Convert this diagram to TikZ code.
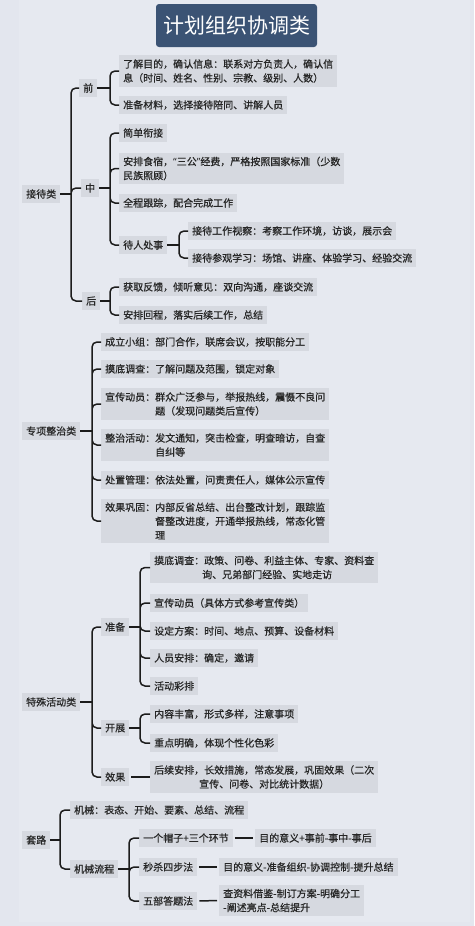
\documentclass[tikz,border=0pt]{standalone}
\usepackage{fontspec}
\usepackage{xcolor}
\usepackage{tikz}
\usetikzlibrary{positioning, calc}
\newfontfamily\cjk[FakeBold=0.6]{Noto Sans CJK SC}
\newfontfamily\cjktitle{Noto Sans CJK SC}
\newfontfamily\qfont{Noto Sans}

\definecolor{bgouter}{HTML}{E3E6EE}
\definecolor{bgpanel}{HTML}{E6E9F0}
\definecolor{boxgray}{HTML}{D6D9E0}
\definecolor{inkgray}{HTML}{262626}
\definecolor{linkgray}{HTML}{1C1C1C}
\definecolor{titleblue}{HTML}{3B5374}

\begin{document}
\begin{tikzpicture}[x=1pt, y=-1pt,
  leaf/.style={fill=boxgray, text=inkgray, font=\cjk\fontsize{10}{14}\selectfont,
    inner xsep=4pt, inner ysep=4pt, anchor=west, align=left},
  link/.style={draw=linkgray, line width=1.5pt, rounded corners=5pt},
  titlebox/.style={fill=titleblue, text=white, rounded corners=3pt,
    font=\cjktitle\fontsize{21}{21}\selectfont, minimum width=161pt, minimum height=43pt}]

  % Background
  \useasboundingbox (0,0) rectangle (474,926);
  \fill[bgouter] (0,0) rectangle (474,926);
  \fill[bgpanel] (19,0) rectangle (470,922);

  % Title
  \node[titlebox] (ttl) at (236.5,25.5) {计划组织协调类};

  % 接待类
  \node[leaf] (jd) at (22,194) {接待类};
  \node[leaf] (jq) at (79,88) {前};
  \node[leaf] (jq1) at (119,71) {了解目的，确认信息：联系对方负责人，确认信\\息（时间、姓名、性别、宗教、级别、人数）};
  \node[leaf] (jq2) at (119,105) {准备材料，选择接待陪同、讲解人员};
  \node[leaf] (jz) at (81,188) {中};
  \node[leaf] (jz1) at (119,133) {简单衔接};
  \node[leaf] (jz2) at (119,168.5) {安排食宿，{\qfont “}三公{\qfont ”}经费，严格按照国家标准（少数\\民族照顾）};
  \node[leaf] (jz3) at (119,203) {全程跟踪，配合完成工作};
  \node[leaf] (jz4) at (119,245) {待人处事};
  \node[leaf] (jz41) at (188,231) {接待工作视察：考察工作环境，访谈，展示会};
  \node[leaf] (jz42) at (188,258) {接待参观学习：场馆、讲座、体验学习、经验交流};
  \node[leaf] (jh) at (82,301) {后};
  \node[leaf] (jh1) at (119,287) {获取反馈，倾听意见：双向沟通，座谈交流};
  \node[leaf] (jh2) at (119,315) {安排回程，落实后续工作，总结};

  \coordinate (jd-j) at (71,194);
  \coordinate (jq-j) at (110,88);
  \coordinate (jz-j) at (110,188);
  \coordinate (jz4-j) at (179,245);
  \coordinate (jh-j) at (110,301);

  \draw[link] (jd.east) -- (jd-j);
  \draw[link] (jd-j) |- (jq.west) (jd-j) |- (jz.west) (jd-j) |- (jh.west);
  \draw[link] (jq.east) -- (jq-j);
  \draw[link] (jq-j) |- (jq1.west) (jq-j) |- (jq2.west);
  \draw[link] (jz.east) -- (jz-j);
  \draw[link] (jz-j) |- (jz1.west) (jz-j) |- (jz2.west) (jz-j) |- (jz3.west) (jz-j) |- (jz4.west);
  \draw[link] (jz4.east) -- (jz4-j);
  \draw[link] (jz4-j) |- (jz41.west) (jz4-j) |- (jz42.west);
  \draw[link] (jh.east) -- (jh-j);
  \draw[link] (jh-j) |- (jh1.west) (jh-j) |- (jh2.west);

  % 专项整治类
  \node[leaf] (zx) at (22,431) {专项整治类};
  \node[leaf] (zx1) at (101,342) {成立小组：部门合作，联席会议，按职能分工};
  \node[leaf] (zx2) at (101,369) {摸底调查：了解问题及范围，锁定对象};
  \node[leaf] (zx3) at (101,404) {宣传动员：群众广泛参与，举报热线，震慑不良问\\\hspace*{5em}题（发现问题类后宣传）};
  \node[leaf] (zx4) at (101,445) {整治活动：发文通知，突击检查，明查暗访，自查\\\hspace*{5em}自纠等};
  \node[leaf] (zx5) at (101,480) {处置管理：依法处置，问责责任人，媒体公示宣传};
  \node[leaf] (zx6) at (101,521) {效果巩固：内部反省总结、出台整改计划，跟踪监\\\hspace*{5em}督整改进度，开通举报热线，常态化管\\\hspace*{5em}理};

  \coordinate (zx-j) at (92,431);
  \draw[link] (zx.east) -- (zx-j);
  \draw[link] (zx-j) |- (zx1.west) (zx-j) |- (zx2.west) (zx-j) |- (zx3.west)
    (zx-j) |- (zx4.west) (zx-j) |- (zx5.west) (zx-j) |- (zx6.west);

  % 特殊活动类
  \node[leaf] (ts) at (22,702) {特殊活动类};
  \node[leaf] (tz) at (101,627) {准备};
  \node[leaf] (tz1) at (150,567.5) {摸底调查：政策、问卷、利益主体、专家、资料查\\\hspace*{4.8em}询、兄弟部门经验、实地走访};
  \node[leaf] (tz2) at (150,603) {宣传动员（具体方式参考宣传类）};
  \node[leaf] (tz3) at (150,631) {设定方案：时间、地点、预算、设备材料};
  \node[leaf] (tz4) at (150,658) {人员安排：确定，邀请};
  \node[leaf] (tz5) at (150,686) {活动彩排};
  \node[leaf] (tk) at (101,728) {开展};
  \node[leaf] (tk1) at (150,714) {内容丰富，形式多样，注意事项};
  \node[leaf] (tk2) at (150,743) {重点明确，体现个性化色彩};
  \node[leaf] (tx) at (101,777) {效果};
  \node[leaf, align=center] (tx1) at (150,777) {后续安排，长效措施，常态发展，巩固效果（二次\\宣传、问卷、对比统计数据）};

  \coordinate (ts-j) at (92,702);
  \coordinate (tz-j) at (140,627);
  \coordinate (tk-j) at (140,728);
  \draw[link] (ts.east) -- (ts-j);
  \draw[link] (ts-j) |- (tz.west) (ts-j) |- (tk.west) (ts-j) |- (tx.west);
  \draw[link] (tz.east) -- (tz-j);
  \draw[link] (tz-j) |- (tz1.west) (tz-j) |- (tz2.west) (tz-j) |- (tz3.west)
    (tz-j) |- (tz4.west) (tz-j) |- (tz5.west);
  \draw[link] (tk.east) -- (tk-j);
  \draw[link] (tk-j) |- (tk1.west) (tk-j) |- (tk2.west);
  \draw[link, shorten <=2pt] (tx.east) -- (tx1.west);

  % 套路
  \node[leaf] (tl) at (22,840) {套路};
  \node[leaf] (tl1) at (70,810) {机械：表态、开始、要素、总结、流程};
  \node[leaf] (tl2) at (70,869) {机械流程};
  \node[leaf] (tm1) at (139,838) {一个帽子+三个环节};
  \node[leaf] (tm2) at (139,867) {秒杀四步法};
  \node[leaf] (tm3) at (139,901) {五部答题法};
  \node[leaf] (tn1) at (255,838) {目的意义+事前-事中-事后};
  \node[leaf] (tn2) at (219,867) {目的意义-准备组织-协调控制-提升总结};
  \node[leaf] (tn3) at (219,900.5) {查资料借鉴-制订方案-明确分工\\-阐述亮点-总结提升};

  \coordinate (tl-j) at (60,840);
  \coordinate (tl2-j) at (129,869);
  \draw[link] (tl.east) -- (tl-j);
  \draw[link] (tl-j) |- (tl1.west) (tl-j) |- (tl2.west);
  \draw[link] (tl2.east) -- (tl2-j);
  \draw[link] (tl2-j) |- (tm1.west) (tl2-j) |- (tm2.west) (tl2-j) |- (tm3.west);
  \draw[link, shorten <=2pt, shorten >=2pt] (tm1.east) -- (tn1.west);
  \draw[link, shorten <=2pt, shorten >=2pt] (tm2.east) -- (tn2.west);
  \draw[link, shorten <=2pt, shorten >=2pt] (tm3.east) -- (tn3.west);
\end{tikzpicture}
\end{document}
